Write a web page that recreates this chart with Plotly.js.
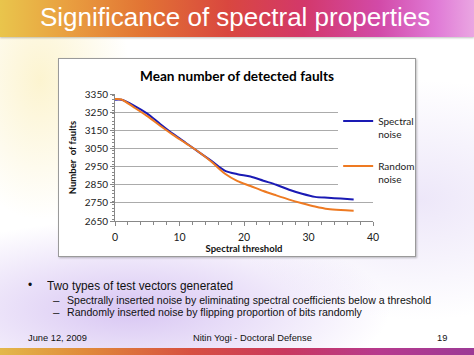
<!DOCTYPE html>
<html>
<head>
<meta charset="utf-8">
<script src="https://cdn.plot.ly/plotly-3.0.1.min.js"></script>
<style>
  html, body { margin:0; padding:0; }
  body { width:474px; height:355px; overflow:hidden; position:relative; font-family:"Liberation Sans", Arial, sans-serif;
    background:
      radial-gradient(ellipse 90px 140px at 40px 80px, rgba(250,235,170,0.55), rgba(255,255,255,0) 100%),
      radial-gradient(ellipse 260px 90px at 130px 310px, rgba(190,160,235,0.6), rgba(255,255,255,0) 100%),
      radial-gradient(ellipse 200px 120px at 420px 200px, rgba(225,215,245,0.6), rgba(255,255,255,0) 100%),
      #ffffff; }
  #header { position:absolute; left:0; top:0; width:474px; height:37px;
    background: linear-gradient(90deg, #e9c54c 0%, #e9a040 14%, #e27434 30%, #d9473f 48%, #d3386a 64%, #d24aa8 80%, #e07ad6 92%, #eaa6e2 100%);
    box-shadow: 0 1px 2px rgba(0,0,0,0.25); }
  #title { position:absolute; left:40px; top:2px; color:#fff; font-size:26px; white-space:nowrap; }
  #chartbox { position:absolute; left:58px; top:58px; width:356px; height:197px; background:#fff; border:1px solid #9a9a9a; box-shadow:1px 1px 2px rgba(0,0,0,0.25); }
  #chart { position:absolute; left:0; top:0; width:356px; height:197px; }
  .t { position:absolute; white-space:nowrap; color:#111; transform-origin:0 50%; }
  #bottom { position:absolute; left:0; top:348px; width:474px; height:7px;
    background: linear-gradient(90deg, #e3b84a 0%, #e08a3a 18%, #d75040 40%, #c9385e 60%, #b63a8e 80%, #9c3a96 100%); }
</style>
</head>
<body>
<div id="header"><div id="title">Significance of spectral properties</div></div>
<div id="chartbox"><div id="chart"></div></div>
<div class="t" style="left:28px; top:278px; font-size:12px;">•</div>
<div class="t" style="left:47px; top:278px; font-size:13.5px; transform:scaleX(0.873);">Two types of test vectors generated</div>
<div class="t" style="left:53px; top:294px; font-size:11.5px;">–</div>
<div class="t" style="left:67px; top:294px; font-size:11.5px; transform:scaleX(0.919);">Spectrally inserted noise by eliminating spectral coefficients below a threshold</div>
<div class="t" style="left:53px; top:306px; font-size:11.5px;">–</div>
<div class="t" style="left:67px; top:306px; font-size:11.5px; transform:scaleX(0.919);">Randomly inserted noise by flipping proportion of bits randomly</div>
<div class="t" style="left:28px; top:333px; font-size:9.3px;">June 12, 2009</div>
<div class="t" style="left:193px; top:333px; font-size:9.3px;">Nitin Yogi - Doctoral Defense</div>
<div class="t" style="left:437px; top:333px; font-size:9.3px;">19</div>
<div id="bottom"></div>
<script>
const threshold = [0, 1, 3, 5, 7, 9, 11, 13, 15, 17, 19, 21, 23, 25, 27, 29, 31, 33, 35, 37];
const spectralNoise = [3318, 3318, 3285, 3242, 3185, 3130, 3080, 3030, 2980, 2928, 2908, 2895, 2872, 2850, 2822, 2800, 2783, 2778, 2774, 2769];
const randomNoise = [3322, 3320, 3275, 3228, 3175, 3125, 3078, 3030, 2975, 2912, 2870, 2843, 2815, 2791, 2768, 2748, 2730, 2716, 2710, 2707];
const seriesNames = ["Spectral<br>noise", "Random<br>noise"];
const chartTitle = "Mean number of detected faults";
const xTitle = "Spectral threshold";
const yTitle = "Number  of faults";

const font = "Lato, 'Open Sans', sans-serif";
const traces = [
  { x: threshold, y: spectralNoise, name: seriesNames[0], legendgroup: "a", mode: "lines",
    line: { color: "#1a1ab4", width: 2, shape: "spline", smoothing: 0.8 } },
  { x: threshold, y: randomNoise, name: seriesNames[1], legendgroup: "b", mode: "lines",
    line: { color: "#ee7a22", width: 2, shape: "spline", smoothing: 0.8 } }
];
const layout = {
  width: 356, height: 197,
  margin: { l: 56, r: 42, t: 35, b: 35, autoexpand: false },
  paper_bgcolor: "rgba(0,0,0,0)", plot_bgcolor: "rgba(0,0,0,0)",
  font: { family: font, size: 10, color: "#222" },
  title: { text: "<b>" + chartTitle + "</b>", font: { family: font, size: 13.6, color: "#000" }, x: 0.5, xanchor: "center", y: 0.915, yanchor: "middle" },
  xaxis: { range: [0, 40], dtick: 10, tick0: 0, showgrid: false, zeroline: false, showline: true, linecolor: "#888", linewidth: 1,
    ticks: "outside", ticklen: 4, tickcolor: "#888", ticklabelstandoff: 2,
    minor: { dtick: 2, ticks: "outside", ticklen: 3, tickcolor: "#888", showgrid: false },
    tickfont: { family: font, size: 10.5, color: "#222" },
    title: { text: "<b>" + xTitle + "</b>", font: { family: font, size: 9.5, color: "#111" }, standoff: 3 } },
  yaxis: { range: [2650, 3350], dtick: 100, tick0: 2650, showgrid: true, gridcolor: "#ababab", gridwidth: 1, zeroline: false,
    showline: true, linecolor: "#888", linewidth: 1, ticks: "outside", ticklen: 4, tickcolor: "#888",
    minor: { dtick: 20, ticks: "outside", ticklen: 2, tickcolor: "#888", showgrid: false },
    tickfont: { family: font, size: 10, color: "#222" },
    title: { text: "<b>" + yTitle + "</b>", font: { family: font, size: 9.5, color: "#111" }, standoff: 6 } },
  showlegend: true,
  legend: { x: 0.865, xanchor: "left", y: 0.89, yanchor: "top", bgcolor: "#ffffff", borderwidth: 0,
    traceorder: "grouped", tracegroupgap: 16, valign: "top", itemwidth: 30,
    font: { family: font, size: 10, color: "#222" } }
};
Plotly.newPlot("chart", traces, layout, { displayModeBar: false, staticPlot: true });
</script>
</body>
</html>
